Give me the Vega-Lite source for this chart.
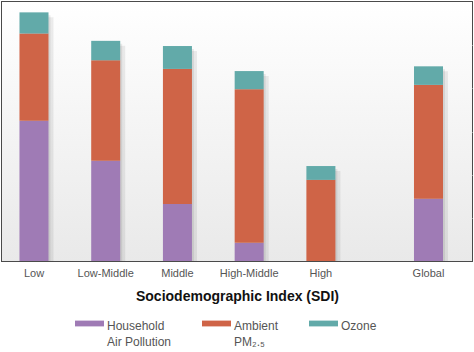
{
  "$schema": "https://vega.github.io/schema/vega-lite/v6.json",
  "width": 470,
  "height": 259,
  "autosize": {"type": "none"},
  "padding": {"left": 2, "top": 2, "right": 2, "bottom": 91},
  "background": "#ffffff",
  "config": {
    "font": "'Liberation Sans', Arial, sans-serif",
    "view": {"stroke": "#4a4a4a", "strokeWidth": 2}
  },
  "data": {
    "values": [
      {"sdi": "Low", "pollutant": "Household Air Pollution", "value": 3.25},
      {"sdi": "Low", "pollutant": "Ambient PM2.5", "value": 2.02},
      {"sdi": "Low", "pollutant": "Ozone", "value": 0.49},
      {"sdi": "Low-Middle", "pollutant": "Household Air Pollution", "value": 2.32},
      {"sdi": "Low-Middle", "pollutant": "Ambient PM2.5", "value": 2.33},
      {"sdi": "Low-Middle", "pollutant": "Ozone", "value": 0.45},
      {"sdi": "Middle", "pollutant": "Household Air Pollution", "value": 1.32},
      {"sdi": "Middle", "pollutant": "Ambient PM2.5", "value": 3.13},
      {"sdi": "Middle", "pollutant": "Ozone", "value": 0.53},
      {"sdi": "High-Middle", "pollutant": "Household Air Pollution", "value": 0.42},
      {"sdi": "High-Middle", "pollutant": "Ambient PM2.5", "value": 3.56},
      {"sdi": "High-Middle", "pollutant": "Ozone", "value": 0.42},
      {"sdi": "High", "pollutant": "Household Air Pollution", "value": 0},
      {"sdi": "High", "pollutant": "Ambient PM2.5", "value": 1.88},
      {"sdi": "High", "pollutant": "Ozone", "value": 0.32},
      {"sdi": "Global", "pollutant": "Household Air Pollution", "value": 1.44},
      {"sdi": "Global", "pollutant": "Ambient PM2.5", "value": 2.64},
      {"sdi": "Global", "pollutant": "Ozone", "value": 0.43}
    ]
  },
  "encoding": {
    "x": {
      "field": "sdi",
      "type": "nominal",
      "scale": {
        "domain": ["Low", "_1", "Low-Middle", "_2", "Middle", "_3", "High-Middle", "_4", "High", "_5", "_6", "Global"],
        "paddingInner": 0.191,
        "paddingOuter": 0.648,
        "align": 0.376
      },
      "axis": {
        "title": "Sociodemographic Index (SDI)",
        "labelExpr": "indexof(datum.label, '_') == 0 ? '' : datum.label",
        "labelAngle": 0,
        "labelFontSize": 11,
        "labelColor": "#555555",
        "labelPadding": 6,
        "ticks": false,
        "domain": false,
        "grid": false,
        "titleFontSize": 14,
        "titleFontWeight": "bold",
        "titleColor": "#111111",
        "titlePadding": 11
      }
    }
  },
  "layer": [
    {
      "data": {"values": [{}]},
      "mark": {
        "type": "rect",
        "fill": {
          "gradient": "linear",
          "x1": 0, "y1": 0, "x2": 0, "y2": 1,
          "stops": [
            {"offset": 0, "color": "#ffffff"},
            {"offset": 1, "color": "#e9e9e9"}
          ]
        }
      },
      "encoding": {"x": null}
    },
    {
      "mark": {"type": "bar", "color": "#000000", "opacity": 0.07, "xOffset": 5, "yOffset": 5},
      "encoding": {
        "y": {"aggregate": "sum", "field": "value", "type": "quantitative", "scale": {"domain": [0, 6], "nice": false}, "axis": {"title": null, "labels": false, "ticks": false, "domain": false, "values": [1, 2, 3, 4, 5], "grid": true, "gridColor": "#d9d9d9", "gridWidth": 1}}
      }
    },
    {
      "mark": {"type": "bar", "color": "#000000", "opacity": 0.08, "xOffset": 2, "yOffset": 3},
      "encoding": {
        "y": {"aggregate": "sum", "field": "value", "type": "quantitative"}
      }
    },
    {
      "transform": [
        {"calculate": "indexof(['Household Air Pollution', 'Ambient PM2.5', 'Ozone'], datum.pollutant)", "as": "stackRank"}
      ],
      "mark": {"type": "bar"},
      "encoding": {
        "y": {"field": "value", "type": "quantitative", "stack": "zero"},
        "order": {"field": "stackRank", "type": "quantitative", "sort": "ascending"},
        "color": {
          "field": "pollutant",
          "type": "nominal",
          "sort": ["Household Air Pollution", "Ambient PM2.5", "Ozone"],
          "scale": {
            "domain": ["Household Air Pollution", "Ambient PM2.5", "Ozone"],
            "range": ["#9f7bb5", "#cf6447", "#62aaa9"]
          },
          "legend": {
            "title": null,
            "orient": "none",
            "legendX": 73,
            "legendY": 307,
            "direction": "horizontal",
            "columns": 3,
            "gridAlign": "none",
            "columnPadding": 30,
            "padding": 0,
            "symbolType": "M-1,-0.2H1V0.2H-1Z",
            "symbolSize": 841,
            "symbolStrokeWidth": 0,
            "symbolOpacity": 1,
            "labelOffset": 3,
            "labelFontSize": 12,
            "labelColor": "#555555",
            "labelBaseline": "top",
            "labelLimit": 200,
            "labelExpr": "datum.label == 'Household Air Pollution' ? ['Household', 'Air Pollution'] : datum.label == 'Ambient PM2.5' ? ['Ambient', 'PM₂.₅'] : datum.label",
            "encode": {"labels": {"update": {"dy": {"value": -3}, "lineHeight": {"value": 16}}}}
          }
        }
      }
    }
  ]
}
